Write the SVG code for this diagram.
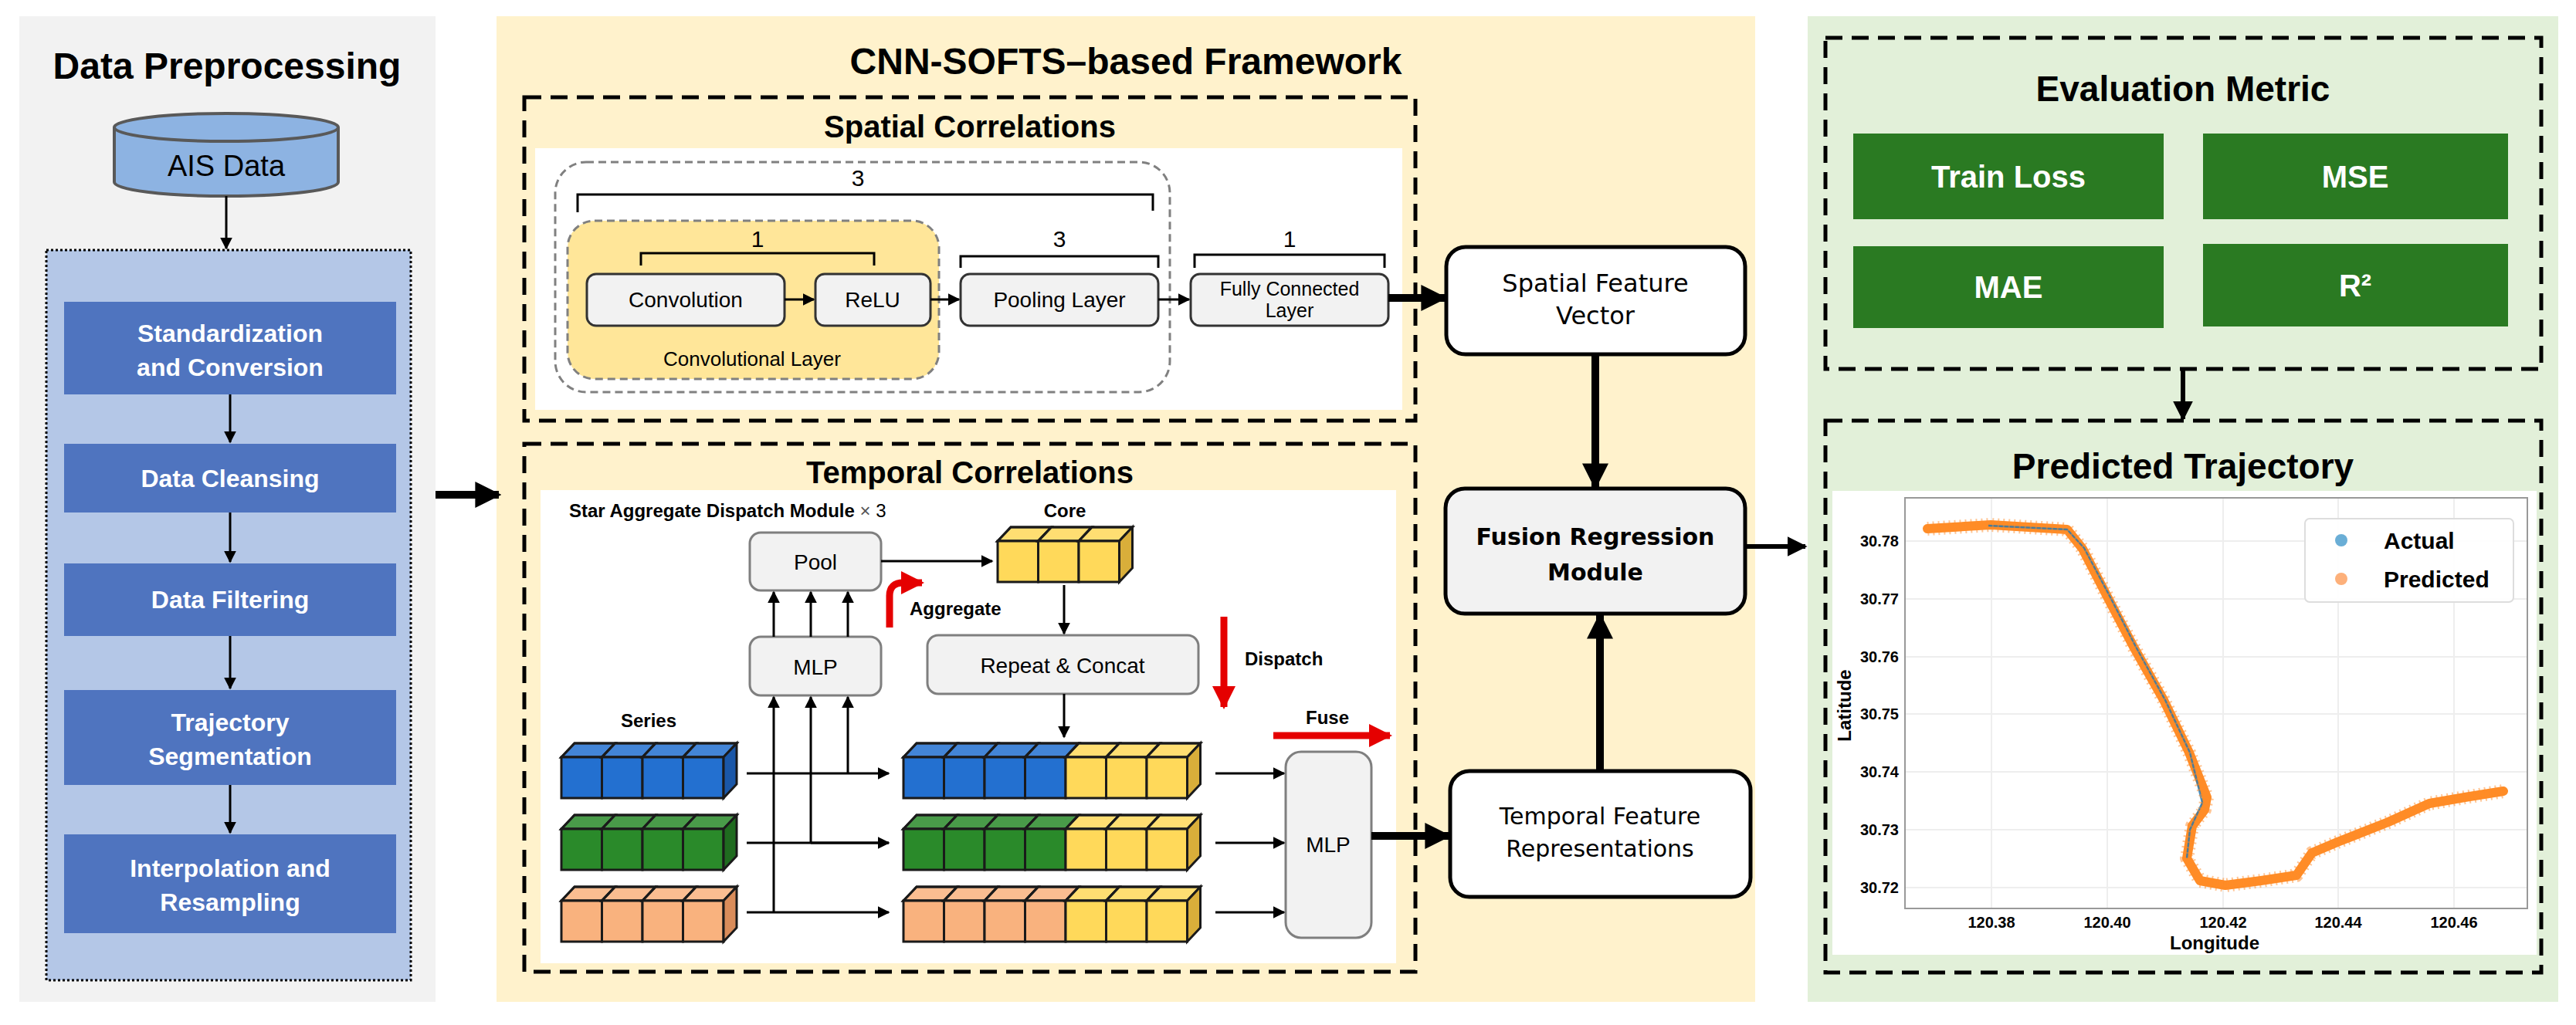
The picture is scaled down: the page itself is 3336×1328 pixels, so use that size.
<svg xmlns="http://www.w3.org/2000/svg" xmlns:xlink="http://www.w3.org/1999/xlink" width="3336" height="1328" viewBox="0 0 3336 1328">
<style>
.t{font-family:"Liberation Sans",Arial,sans-serif;fill:#000}
.b{font-weight:bold}
.c{text-anchor:middle}
.w{fill:#fff}
.v{font-family:"DejaVu Sans",Verdana,sans-serif}
.dash{fill:none;stroke:#000;stroke-width:5;stroke-dasharray:22 12}
.blue{fill:#4F74BF}
.gbtn{fill:#2A7A22}
.sm{fill:#F2F2F2;stroke:#333;stroke-width:3}
.tm{fill:#F2F2F2;stroke:#7f7f7f;stroke-width:3}
.ar{stroke:#000;stroke-width:3;fill:none;marker-end:url(#ah)}
.ln{stroke:#000;stroke-width:3;fill:none}
.thick{stroke:#000;stroke-width:10;fill:none;marker-end:url(#ahB)}
.mid{stroke:#000;stroke-width:6;fill:none;marker-end:url(#ahM)}
.red{stroke:#E50000;stroke-width:9;fill:none;marker-end:url(#ahR)}
.cell{stroke:#1a1a1a;stroke-width:3}
.grid{stroke:#eeeeee;stroke-width:2}
</style>
<defs>
<marker id="ah" viewBox="0 0 10 10" refX="9" refY="5" markerWidth="16" markerHeight="16" markerUnits="userSpaceOnUse" orient="auto"><path d="M0,0 L10,5 L0,10 z"/></marker>
<marker id="ahM" viewBox="0 0 10 10" refX="9" refY="5" markerWidth="26" markerHeight="26" markerUnits="userSpaceOnUse" orient="auto"><path d="M0,0 L10,5 L0,10 z"/></marker>
<marker id="ahB" viewBox="0 0 10 10" refX="9" refY="5" markerWidth="34" markerHeight="34" markerUnits="userSpaceOnUse" orient="auto"><path d="M0,0 L10,5 L0,10 z"/></marker>
<marker id="ahR" viewBox="0 0 10 10" refX="9" refY="5" markerWidth="30" markerHeight="30" markerUnits="userSpaceOnUse" orient="auto"><path d="M0,0 L10,5 L0,10 z" fill="#E50000"/></marker>
<g id="cell" class="cell"><polygon points="0,0 17,-18 69.5,-18 52.5,0"/><polygon points="0,0 17,-18 69.5,-18 52.5,0" fill="#fff" fill-opacity="0.15"/><rect width="52.5" height="53"/></g>
<polygon id="side" class="cell" points="0,0 17,-18 17,35 0,53"/>
</defs>

<!-- Left panel -->
<g id="panel-preprocessing">
<rect x="25" y="21" width="539" height="1277" fill="#F2F2F2"/>
<text class="t b c" x="294" y="102" font-size="48">Data Preprocessing</text>
</g>
<g id="ais-data">
<path d="M148,165 L148,236 A145,18 0 0 0 438,236 L438,165" fill="#8DB3E2" stroke="#595959" stroke-width="4"/>
<ellipse cx="293" cy="165" rx="145" ry="18" fill="#8DB3E2" stroke="#595959" stroke-width="4"/>
<text class="t c" x="293" y="228" font-size="38">AIS Data</text>
</g>
<g id="preprocess-box">
<rect x="60" y="324" width="472" height="946" fill="#B4C7E7" stroke="#000" stroke-width="3" stroke-dasharray="3 3"/>
</g>
<g id="n-standardization"><rect class="blue" x="83" y="391" width="430" height="120"/><text class="t b c w" x="298" y="443" font-size="32">Standardization</text><text class="t b c w" x="298" y="487" font-size="32">and Conversion</text></g>
<g id="n-cleansing"><rect class="blue" x="83" y="575" width="430" height="89"/><text class="t b c w" x="298" y="631" font-size="32">Data Cleansing</text></g>
<g id="n-filtering"><rect class="blue" x="83" y="730" width="430" height="94"/><text class="t b c w" x="298" y="788" font-size="32">Data Filtering</text></g>
<g id="n-segmentation"><rect class="blue" x="83" y="894" width="430" height="123"/><text class="t b c w" x="298" y="947" font-size="32">Trajectory</text><text class="t b c w" x="298" y="991" font-size="32">Segmentation</text></g>
<g id="n-interpolation"><rect class="blue" x="83" y="1081" width="430" height="128"/><text class="t b c w" x="298" y="1136" font-size="32">Interpolation and</text><text class="t b c w" x="298" y="1180" font-size="32">Resampling</text></g>

<!-- Middle panel -->
<g id="panel-framework">
<rect x="643" y="21" width="1630" height="1277" fill="#FFF2CC"/>
<text class="t b c" x="1458" y="96" font-size="48">CNN-SOFTS–based Framework</text>
</g>
<g id="spatial">
<rect class="dash" x="679" y="126" width="1154" height="419"/>
<text class="t b c" x="1256" y="178" font-size="40">Spatial Correlations</text>
<rect x="693" y="192" width="1123" height="339" fill="#fff"/>
<rect x="719" y="210" width="796" height="298" rx="40" fill="none" stroke="#808080" stroke-width="3" stroke-dasharray="10 6"/>
<path class="ln" d="M748,275 V252 H1493 V273" stroke="#404040"/>
<text class="t c" x="1111" y="241" font-size="30">3</text>
<rect x="735" y="286" width="481" height="205" rx="35" fill="#FFE699" stroke="#808080" stroke-width="3" stroke-dasharray="10 6"/>
<path class="ln" d="M830,344 V328 H1132 V344" stroke="#404040"/>
<text class="t c" x="981" y="320" font-size="30">1</text>
<text class="t c" x="974" y="474" font-size="26" fill="#333">Convolutional Layer</text>
<path class="ln" d="M1244,347 V332 H1500 V347" stroke="#404040"/>
<text class="t c" x="1372" y="320" font-size="30">3</text>
<path class="ln" d="M1547,347 V330 H1793 V347" stroke="#404040"/>
<text class="t c" x="1670" y="320" font-size="30">1</text>
</g>
<g id="n-convolution"><rect class="sm" x="760" y="355" width="256" height="67" rx="12"/><text class="t c" x="888" y="398" font-size="28" fill="#333">Convolution</text></g>
<g id="n-relu"><rect class="sm" x="1056" y="355" width="149" height="67" rx="12"/><text class="t c" x="1130" y="398" font-size="28" fill="#333">ReLU</text></g>
<g id="n-pooling"><rect class="sm" x="1244" y="355" width="256" height="67" rx="12"/><text class="t c" x="1372" y="398" font-size="28" fill="#333">Pooling Layer</text></g>
<g id="n-fc"><rect class="sm" x="1542" y="355" width="256" height="67" rx="12"/><text class="t c" x="1670" y="383" font-size="25" fill="#333">Fully Connected</text><text class="t c" x="1670" y="411" font-size="25" fill="#333">Layer</text></g>

<g id="n-sfv"><rect x="1873" y="320" width="387" height="139" rx="25" fill="#fff" stroke="#000" stroke-width="5"/><text class="v c" x="2066" y="378" font-size="32">Spatial Feature</text><text class="v c" x="2066" y="420" font-size="32">Vector</text></g>
<g id="n-frm"><rect x="1872" y="633" width="388" height="162" rx="25" fill="#F2F2F2" stroke="#000" stroke-width="5"/><text class="v b c" x="2066" y="706" font-size="30">Fusion Regression</text><text class="v b c" x="2066" y="752" font-size="30">Module</text></g>
<g id="n-tfr"><rect x="1878" y="999" width="389" height="163" rx="25" fill="#fff" stroke="#000" stroke-width="5"/><text class="v c" x="2072" y="1068" font-size="30">Temporal Feature</text><text class="v c" x="2072" y="1110" font-size="30">Representations</text></g>

<g id="temporal">
<rect class="dash" x="679" y="575" width="1154" height="684"/>
<text class="t b c" x="1256" y="626" font-size="40">Temporal Correlations</text>
<rect x="700" y="635" width="1108" height="613" fill="#fff"/>
<text class="t b" x="737" y="670" font-size="24">Star Aggregate Dispatch Module <tspan font-weight="normal" fill="#555">×</tspan><tspan font-weight="normal"> 3</tspan></text>
<text class="t b c" x="1379" y="670" font-size="24">Core</text>
<text class="t b" x="1178" y="797" font-size="24">Aggregate</text>
<text class="t b" x="1612" y="862" font-size="24">Dispatch</text>
<text class="t b c" x="840" y="942" font-size="24">Series</text>
<text class="t b c" x="1719" y="938" font-size="24">Fuse</text>
</g>
<g id="n-pool"><rect class="tm" x="971" y="690" width="170" height="75" rx="14"/><text class="t c" x="1056" y="738" font-size="28" fill="#333">Pool</text></g>
<g id="n-mlp1"><rect class="tm" x="971" y="825" width="170" height="76" rx="14"/><text class="t c" x="1056" y="874" font-size="28" fill="#333">MLP</text></g>
<g id="n-repeat"><rect class="tm" x="1201" y="823" width="351" height="76" rx="14"/><text class="t c" x="1376" y="872" font-size="28" fill="#333">Repeat &amp; Concat</text></g>
<g id="n-mlp2"><rect class="tm" x="1665" y="974" width="111" height="241" rx="20"/><text class="t c" x="1720" y="1104" font-size="28" fill="#333">MLP</text></g>

<g id="n-core" fill="#FFD95A">
<use href="#cell" x="1292" y="701"/><use href="#cell" x="1344.5" y="701"/><use href="#cell" x="1397" y="701"/><use href="#side" x="1449.5" y="701" fill="#D9AE3A"/>
</g>
<g id="n-series">
<g fill="#2370D0"><use href="#cell" x="727" y="981"/><use href="#cell" x="779.5" y="981"/><use href="#cell" x="832" y="981"/><use href="#cell" x="884.5" y="981"/><use href="#side" x="937" y="981" fill="#1A57A8"/></g>
<g fill="#2A8A2A"><use href="#cell" x="727" y="1074"/><use href="#cell" x="779.5" y="1074"/><use href="#cell" x="832" y="1074"/><use href="#cell" x="884.5" y="1074"/><use href="#side" x="937" y="1074" fill="#1F6B1F"/></g>
<g fill="#F9B27E"><use href="#cell" x="727" y="1167"/><use href="#cell" x="779.5" y="1167"/><use href="#cell" x="832" y="1167"/><use href="#cell" x="884.5" y="1167"/><use href="#side" x="937" y="1167" fill="#D98C5A"/></g>
</g>
<g id="n-concat">
<g fill="#2370D0"><use href="#cell" x="1170" y="981"/><use href="#cell" x="1222.5" y="981"/><use href="#cell" x="1275" y="981"/><use href="#cell" x="1327.5" y="981"/></g>
<g fill="#2A8A2A"><use href="#cell" x="1170" y="1074"/><use href="#cell" x="1222.5" y="1074"/><use href="#cell" x="1275" y="1074"/><use href="#cell" x="1327.5" y="1074"/></g>
<g fill="#F9B27E"><use href="#cell" x="1170" y="1167"/><use href="#cell" x="1222.5" y="1167"/><use href="#cell" x="1275" y="1167"/><use href="#cell" x="1327.5" y="1167"/></g>
<g fill="#FFD95A">
<use href="#cell" x="1380" y="981"/><use href="#cell" x="1432.5" y="981"/><use href="#cell" x="1485" y="981"/><use href="#side" x="1537.5" y="981" fill="#D9AE3A"/>
<use href="#cell" x="1380" y="1074"/><use href="#cell" x="1432.5" y="1074"/><use href="#cell" x="1485" y="1074"/><use href="#side" x="1537.5" y="1074" fill="#D9AE3A"/>
<use href="#cell" x="1380" y="1167"/><use href="#cell" x="1432.5" y="1167"/><use href="#cell" x="1485" y="1167"/><use href="#side" x="1537.5" y="1167" fill="#D9AE3A"/>
</g>
</g>

<!-- Right panel -->
<g id="panel-eval">
<rect x="2341" y="21" width="972" height="1277" fill="#E2F0D9"/>
<rect class="dash" x="2364" y="49" width="927" height="429"/>
<text class="t b c" x="2827" y="131" font-size="46">Evaluation Metric</text>
</g>
<g id="n-trainloss"><rect class="gbtn" x="2400" y="173" width="402" height="111"/><text class="t b c w" x="2601" y="243" font-size="40">Train Loss</text></g>
<g id="n-mse"><rect class="gbtn" x="2853" y="173" width="395" height="111"/><text class="t b c w" x="3050" y="243" font-size="40">MSE</text></g>
<g id="n-mae"><rect class="gbtn" x="2400" y="319" width="402" height="106"/><text class="t b c w" x="2601" y="386" font-size="40">MAE</text></g>
<g id="n-r2"><rect class="gbtn" x="2853" y="316" width="395" height="107"/><text class="t b c w" x="3050" y="384" font-size="40">R²</text></g>

<g id="n-predicted">
<rect class="dash" x="2364" y="545" width="927" height="715"/>
<text class="t b c" x="2827" y="620" font-size="46">Predicted Trajectory</text>
<rect x="2373" y="636" width="912" height="601" fill="#fff"/>
<g class="grid">
<line x1="2579" y1="645" x2="2579" y2="1177"/><line x1="2729" y1="645" x2="2729" y2="1177"/><line x1="2879" y1="645" x2="2879" y2="1177"/><line x1="3028" y1="645" x2="3028" y2="1177"/><line x1="3178" y1="645" x2="3178" y2="1177"/>
<line x1="2467" y1="701" x2="3273" y2="701"/><line x1="2467" y1="776" x2="3273" y2="776"/><line x1="2467" y1="851" x2="3273" y2="851"/><line x1="2467" y1="925" x2="3273" y2="925"/><line x1="2467" y1="1000" x2="3273" y2="1000"/><line x1="2467" y1="1075" x2="3273" y2="1075"/><line x1="2467" y1="1150" x2="3273" y2="1150"/>
</g>
<rect x="2467" y="645" width="806" height="532" fill="none" stroke="#999" stroke-width="2"/>
<g class="t b" font-size="20" text-anchor="end" fill="#333">
<text x="2459" y="708">30.78</text><text x="2459" y="783">30.77</text><text x="2459" y="858">30.76</text><text x="2459" y="932">30.75</text><text x="2459" y="1007">30.74</text><text x="2459" y="1082">30.73</text><text x="2459" y="1157">30.72</text>
</g>
<g class="t b c" font-size="20" fill="#333">
<text x="2579" y="1202">120.38</text><text x="2729" y="1202">120.40</text><text x="2879" y="1202">120.42</text><text x="3028" y="1202">120.44</text><text x="3178" y="1202">120.46</text>
</g>
<text class="t b c" x="2868" y="1230" font-size="24">Longitude</text>
<text class="t b c" x="0" y="0" font-size="24" transform="translate(2397,914) rotate(-90)">Latitude</text>
<polyline points="2496,685 2578,680 2677,686 2697,711 2730,775 2763,838 2802,907 2835,975 2858,1033 2855,1049 2839,1070 2832,1112 2849,1141 2882,1147 2928,1141 2974,1134 2994,1105 3027,1091 3093,1065 3146,1041 3192,1033 3242,1025" fill="none" stroke="#FF7F0E" stroke-width="12" stroke-linejoin="round" stroke-linecap="round" opacity="0.9"/>
<polyline points="2575,681 2677,686 2699,710 2733,774 2766,838 2804,907 2836,975 2852,1040 2836,1075 2832,1112" fill="none" stroke="#1F77B4" stroke-width="2.5" stroke-linejoin="round" opacity="0.8"/>
<polyline points="2496,685 2578,680 2677,686 2697,711 2730,775 2763,838 2802,907 2835,975 2858,1033 2855,1049 2839,1070 2832,1112 2849,1141 2882,1147 2928,1141 2974,1134 2994,1105 3027,1091 3093,1065 3146,1041 3192,1033 3242,1025" fill="none" stroke="#FF8C2A" stroke-width="18" stroke-dasharray="2 5" stroke-linejoin="round" opacity="0.5"/>
<rect x="2985" y="672" width="270" height="108" rx="6" fill="#fff" fill-opacity="0.9" stroke="#dddddd" stroke-width="2"/>
<circle cx="3032" cy="700" r="8" fill="#6AAED6"/>
<circle cx="3032" cy="750" r="8" fill="#FDB07A"/>
<text class="t b" x="3087" y="711" font-size="30">Actual</text>
<text class="t b" x="3087" y="761" font-size="30">Predicted</text>
</g>

<!-- Connectors -->
<g id="connectors">
<path class="ar" d="M293,254 V322" stroke-width="4"/>
<path class="ar" d="M298,511 V573" stroke-width="4"/>
<path class="ar" d="M298,664 V728" stroke-width="4"/>
<path class="ar" d="M298,824 V892" stroke-width="4"/>
<path class="ar" d="M298,1017 V1079" stroke-width="4"/>
<path class="thick" d="M564,641 H646"/>
<path class="ar" d="M1016,388 H1054"/>
<path class="ar" d="M1205,388 H1242"/>
<path class="ar" d="M1500,388 H1540" stroke="#555"/>
<path class="thick" d="M1798,386 H1871"/>
<path class="thick" d="M2066,459 V631"/>
<path class="thick" d="M2072,999 V797"/>
<path class="mid" d="M2260,708 H2338"/>
<path class="thick" d="M1776,1083 H1876"/>
<path class="mid" d="M2827,478 V543"/>
<path class="ar" d="M1141,727 H1285"/>
<path class="ar" d="M1378,758 V821"/>
<path class="ar" d="M1378,899 V955"/>
<path class="ar" d="M1002,825 V767"/><path class="ar" d="M1050,825 V767"/><path class="ar" d="M1098,825 V767"/>
<path class="ln" d="M967,1002 H1098"/><path class="ar" d="M1098,1002 H1151"/>
<path class="ln" d="M967,1092 H1151"/><path class="ar" d="M1050,1092 H1151"/>
<path class="ar" d="M967,1182 H1151"/>
<path class="ar" d="M1002,1182 V903"/><path class="ar" d="M1050,1092 V903"/><path class="ar" d="M1098,1002 V903"/>
<path class="ar" d="M1574,1002 H1663"/><path class="ar" d="M1574,1092 H1663"/><path class="ar" d="M1574,1182 H1663"/>
<path class="red" d="M1152,813 V772 Q1152,755 1170,755 H1194"/>
<path class="red" d="M1585,799 V916"/>
<path class="red" d="M1649,953 H1800" stroke-width="12"/>
</g>
</svg>
